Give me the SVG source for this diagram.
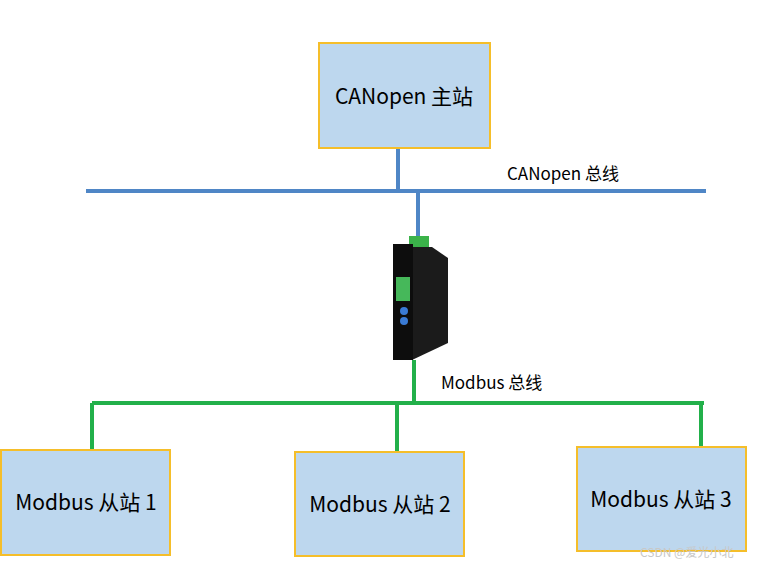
<svg xmlns="http://www.w3.org/2000/svg" width="758" height="566" viewBox="0 0 758 566">
<style>
.box{fill:#bdd7ee;stroke:#f5be2a;stroke-width:2}
.t{font-family:"Noto Sans CJK SC","Liberation Sans",sans-serif;font-size:21px;fill:#000;text-anchor:middle}
.l{font-family:"Noto Sans CJK SC","Liberation Sans",sans-serif;font-size:17px;fill:#000}
.b{stroke:#4f86c6;stroke-width:4;fill:none}
.g{stroke:#22b04a;stroke-width:4;fill:none}
</style>
<rect width="758" height="566" fill="#fff"/>
<g id="connectors">
<path class="b" d="M86 191H706M398 148V191M418 191V236"/>
<path class="g" d="M414 360V403M92 403H704M92 403V450M397 403V452M701 403V447"/>
</g>
<g id="master"><rect class="box" x="319" y="43" width="171" height="105"/><text class="t" x="404" y="104">CANopen 主站</text></g>
<text class="l" x="507" y="180">CANopen 总线</text>
<text class="l" x="441" y="389">Modbus 总线</text>
<g id="device">
<rect x="409" y="236" width="20" height="12" fill="#3bb34a"/>
<polygon points="412,247 432,247 448,258 448,343 412,360" fill="#1b1b1b"/>
<rect x="393" y="244" width="20" height="116" fill="#0d0d0d"/>
<rect x="396" y="277" width="14" height="24" fill="#46b85a"/>
<circle cx="404" cy="311" r="4" fill="#3a7bd5"/>
<circle cx="404" cy="321" r="4" fill="#3a7bd5"/>
</g>
<g id="s1"><rect class="box" x="1" y="450" width="169" height="105"/><text class="t" x="86" y="510">Modbus 从站 1</text></g>
<g id="s2"><rect class="box" x="295" y="452" width="169" height="104"/><text class="t" x="380" y="512">Modbus 从站 2</text></g>
<g id="s3"><rect class="box" x="577" y="447" width="169" height="104"/><text class="t" x="661" y="507">Modbus 从站 3</text></g>
<text x="640" y="557" font-family="'Noto Sans CJK SC','Liberation Sans',sans-serif" font-size="12" fill="#c8c8c8">CSDN @爱光小北</text>
</svg>
